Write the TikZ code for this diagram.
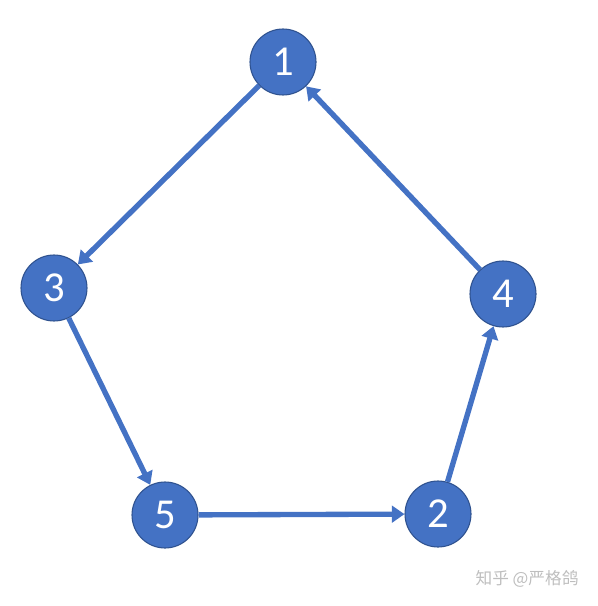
\documentclass[tikz,border=0pt]{standalone}
\usepackage{fontspec}
\setmainfont{Carlito}
\newfontfamily\cjk{Noto Sans CJK SC}
\usetikzlibrary{arrows.meta}
\definecolor{nodeblue}{RGB}{68,114,196}
\definecolor{edgeblue}{RGB}{47,82,143}
\definecolor{markgray}{RGB}{190,190,190}

\begin{document}
\begin{tikzpicture}[x=0.75pt, y=-0.75pt,
  vertex/.style={circle, fill=nodeblue, draw=edgeblue, line width=0.8pt, minimum size=49.5pt, inner sep=0pt, text=white, font=\fontsize{32}{36}\selectfont},
  link/.style={nodeblue, line width=4pt, -{Triangle[length=9.5pt, width=12.5pt]}}]
  \useasboundingbox (0,0) rectangle (597,606);
  \foreach \name/\x/\y in {1/283/62, 3/54/288, 4/503/294, 5/165/515, 2/438/514} {
    \node[vertex] (v\name) at (\x,\y) {\name};
  }
  \foreach \from/\to in {1/3, 3/5, 5/2, 2/4, 4/1} {
    \draw[link] (v\from) -- (v\to);
  }
  \node[text=markgray, font=\cjk\fontsize{12.5}{14}\selectfont] (mark) at (527,579) {知乎 @严格鸽};
\end{tikzpicture}
\end{document}
